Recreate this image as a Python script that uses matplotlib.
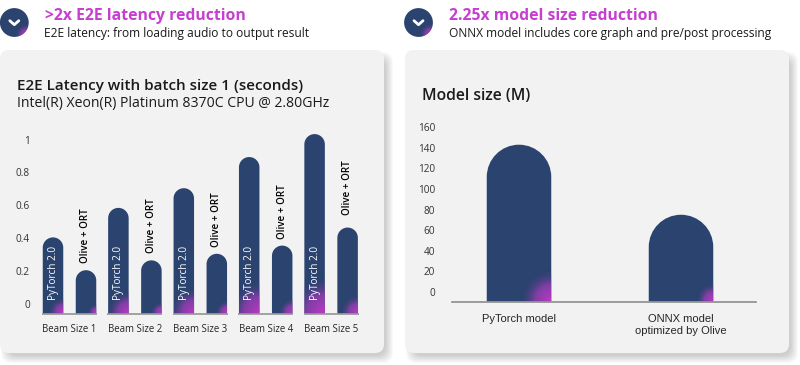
import matplotlib
matplotlib.use('Agg')
import matplotlib.pyplot as plt
import numpy as np
from matplotlib.colors import LinearSegmentedColormap
from matplotlib.patches import Circle, FancyBboxPatch, PathPatch
from matplotlib.path import Path

# Values
beams = ['Beam Size 1', 'Beam Size 2', 'Beam Size 3', 'Beam Size 4', 'Beam Size 5']
pytorch_latency = [0.40, 0.58, 0.70, 0.89, 1.03]
olive_latency = [0.20, 0.26, 0.30, 0.35, 0.46]
latency_ticks = [0, 0.2, 0.4, 0.6, 0.8, 1]

models = ['PyTorch model', 'ONNX model\noptimized by Olive']
model_size = [143, 75]
size_ticks = [0, 20, 40, 60, 80, 100, 120, 140, 160]

NAVY = '#2b436f'
PINK = '#c63fd0'
PANEL = '#f2f2f2'
DARK = '#1a1a1a'
W, H = 800, 365
SEGOE = 'Open Sans'

glow = LinearSegmentedColormap.from_list(
    'glow', [(0.75, 0.22, 0.78, 1), (0.62, 0.24, 0.72, 0.75), (0.17, 0.26, 0.44, 0)])

fig = plt.figure(figsize=(W / 100, H / 100), dpi=100, facecolor='white')

# background layer, one unit per pixel, y going down
bg = fig.add_axes([0, 0, 1, 1])
bg.set_xlim(0, W)
bg.set_ylim(H, 0)
bg.axis('off')


def panel(x0, x1, y0, y1):
    # soft shadow, stacked translucent boxes
    for grow in np.linspace(4, -3, 8):
        bg.add_patch(FancyBboxPatch((x0 + 5 - grow, y0 + 6 - grow), x1 - x0 + 2 * grow, y1 - y0 + 2 * grow,
                                    boxstyle='round,pad=0,rounding_size=10', fc='black', ec='none', alpha=0.022))
    bg.add_patch(FancyBboxPatch((x0, y0), x1 - x0, y1 - y0, boxstyle='round,pad=0,rounding_size=9',
                                fc=PANEL, ec='none'))


def badge(cx, cy):
    c = Circle((cx, cy), 14.4, fc=NAVY, ec='none')
    bg.add_patch(c)
    xx, yy = np.meshgrid(np.linspace(-1, 1, 80), np.linspace(-1, 1, 80))
    d = np.hypot(xx - 0.85, yy - 0.85) / 0.8
    im = bg.imshow(np.clip(d, 0, 1), cmap=glow, vmin=0, vmax=1, aspect='auto', zorder=3,
                   extent=(cx - 14.4, cx + 14.4, cy + 14.4, cy - 14.4))
    im.set_clip_path(c)
    bg.plot([cx - 4.5, cx, cx + 4.5], [cy - 1.8, cy + 2.2, cy - 1.8], color='white', lw=2,
            solid_capstyle='round', solid_joinstyle='round', zorder=4)


panel(0, 384, 50, 353)
panel(405, 789, 50, 353)
badge(14.3, 22.5)
badge(418.5, 22.5)
bg.set_xlim(0, W)
bg.set_ylim(H, 0)

bg.text(45, 16, '>2x E2E latency reduction', color=PINK, fontsize=11.3, fontweight='bold', family=SEGOE, va='center')
bg.text(44, 33.5, 'E2E latency: from loading audio to output result', color=DARK, fontsize=8.65, family=SEGOE, va='center')
bg.text(449, 16, '2.25x model size reduction', color=PINK, fontsize=11.3, fontweight='bold', family=SEGOE, va='center')
bg.text(449, 33.5, 'ONNX model includes core graph and pre/post processing', color=DARK, fontsize=8.65, family=SEGOE, va='center')
bg.text(17, 86, 'E2E Latency with batch size 1 (seconds)', color=DARK, fontsize=10.95, fontweight='semibold', family=SEGOE, va='center')
bg.text(17, 104, 'Intel(R) Xeon(R) Platinum 8370C CPU @ 2.80GHz', color=DARK, fontsize=10.1, family=SEGOE, va='center')
bg.text(422, 95.5, 'Model size (M)', color=DARK, fontsize=11.3, fontweight='semibold', family=SEGOE, va='center')


def pixel_axes(x0, x1, ytop, ybottom, xlim, ylim):
    ax = fig.add_axes([x0 / W, 1 - ybottom / H, (x1 - x0) / W, (ybottom - ytop) / H])
    ax.patch.set_alpha(0)
    ax.set_xlim(*xlim)
    ax.set_ylim(*ylim)
    ax.axis('off')
    return ax


def round_bar(ax, x, width, value, floor, px_x, px_y):
    # bar with a half round top and a radial glow in the lower right corner
    rx = width / 2
    ry = rx * px_x / px_y
    k = 0.5523
    top = value - ry
    verts = [(x - rx, floor), (x - rx, top),
             (x - rx, top + k * ry), (x - k * rx, value), (x, value),
             (x + k * rx, value), (x + rx, top + k * ry), (x + rx, top),
             (x + rx, floor), (x - rx, floor)]
    codes = [Path.MOVETO, Path.LINETO, Path.CURVE4, Path.CURVE4, Path.CURVE4,
             Path.CURVE4, Path.CURVE4, Path.CURVE4, Path.LINETO, Path.CLOSEPOLY]
    p = PathPatch(Path(verts, codes), fc=NAVY, ec='none', zorder=2)
    ax.add_patch(p)
    height_px = (value - floor) * px_y
    r = 0.2 * height_px + 1
    xs = np.linspace(x - rx, x + rx, 60)
    ys = np.linspace(floor, floor + r * 1.1 / px_y, 60)
    xx, yy = np.meshgrid(xs, ys)
    d = np.hypot((xx - (x + rx)) * px_x, (yy - floor) * px_y) / r
    im = ax.imshow(np.clip(d, 0, 1), cmap=glow, vmin=0, vmax=1, origin='lower', aspect='auto', zorder=3,
                   extent=(xs[0], xs[-1], ys[0], ys[-1]))
    im.set_clip_path(p)


# Latency chart: 0 sits at y=303 px, the bars run on down to the base line at 313.5 px
lat_ax = pixel_axes(0, 384, 120, 335, (0, 384), ((303 - 335) / 164, (303 - 120) / 164))
lat_floor = -10.5 / 164
for i, beam in enumerate(beams):
    x_pt = 53 + i * 65.4
    x_ol = 86 + i * 65.4
    round_bar(lat_ax, x_pt, 20.5, pytorch_latency[i], lat_floor, 1, 164)
    round_bar(lat_ax, x_ol, 20.5, olive_latency[i], lat_floor, 1, 164)
    lat_ax.plot([x_pt - 11, x_ol + 11], [lat_floor, lat_floor], color='#8c8c8c', lw=1.1, zorder=4,
                solid_capstyle='butt')
    lat_ax.text(x_pt + 0.5, lat_floor + 13.5 / 164, 'PyTorch 2.0', rotation=90, color='white', fontsize=7.2,
                family=SEGOE, ha='center', va='bottom', zorder=5)
    # the last label floats a bit higher above its bar
    gap = 13 if i == 4 else 7
    lat_ax.text(x_ol, olive_latency[i] + gap / 164, 'Olive + ORT', rotation=90, color='black', fontsize=7.1,
                family=SEGOE, fontweight='semibold', ha='center', va='bottom', zorder=5)
    lat_ax.text((x_pt + x_ol) / 2, lat_floor - 15.5 / 164, beam, color='#262626', fontsize=6.9, family=SEGOE,
                ha='center', va='center')
for t in latency_ticks:
    lat_ax.text(30, t - 2 / 164, f'{t:g}', color='#333333', fontsize=7.2, family=SEGOE, ha='right', va='center')

# Model size chart: 0 sits at y=292 px, base line at 301.5 px
size_ax = pixel_axes(405, 789, 115, 345, (405, 789), ((292 - 345) / 1.03, (292 - 115) / 1.03))
size_floor = -9.5 / 1.03
for i, model in enumerate(models):
    x = [519, 681][i]
    round_bar(size_ax, x, 64.5, model_size[i], size_floor, 1, 1.03)
    size_ax.text(x, size_floor - 12.5 / 1.03, model, color='#262626', fontsize=8.0, family='Liberation Sans',
                 ha='center', va='top', linespacing=1.25)
size_ax.plot([452, 756], [size_floor, size_floor], color='#8c8c8c', lw=1.2, zorder=4)
for t in size_ticks:
    size_ax.text(435, t - 1.5 / 1.03, f'{t}', color='#333333', fontsize=7.2, family=SEGOE, ha='right', va='center')

lat_ax.set_xlim(0, 384)
lat_ax.set_ylim((303 - 335) / 164, (303 - 120) / 164)
size_ax.set_xlim(405, 789)
size_ax.set_ylim((292 - 345) / 1.03, (292 - 115) / 1.03)

plt.savefig('out.png', dpi=100, facecolor='white')
